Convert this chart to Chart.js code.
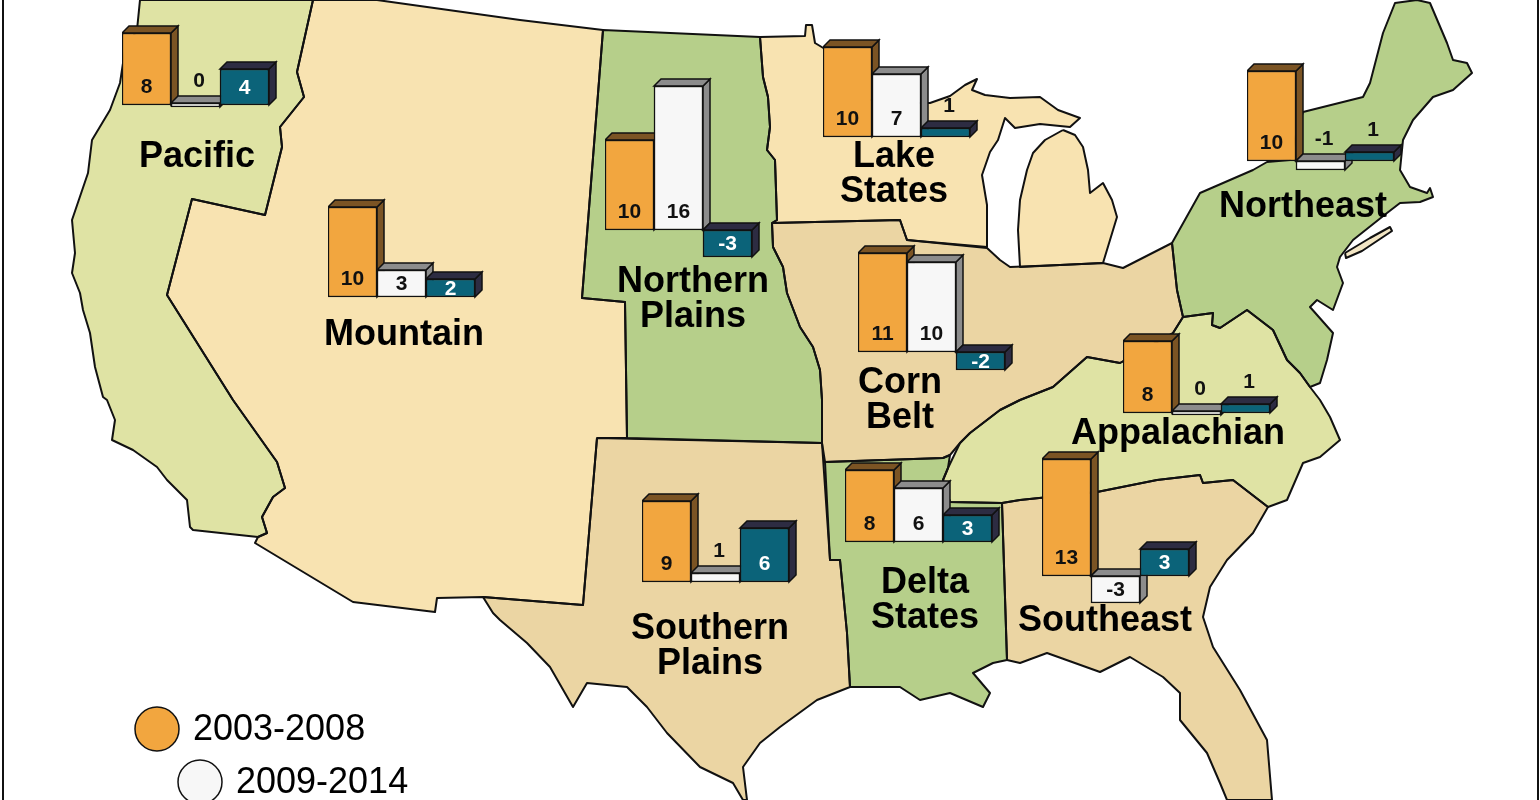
<!DOCTYPE html>
<html><head><meta charset="utf-8">
<script src="https://cdn.jsdelivr.net/npm/chart.js@4/dist/chart.umd.min.js"></script>
<style>
html,body{margin:0;padding:0;background:#fff;}
#wrap{position:relative;width:1540px;height:800px;overflow:hidden;background:#fff;}
#map{position:absolute;left:0;top:0;}
.mini{position:absolute;}
</style></head><body><div id="wrap"><canvas id="map" width="1540" height="800"></canvas></div>
<script>
// ---------- DATA ----------
const regions = ['Pacific','Mountain','Northern Plains','Lake States','Corn Belt','Northeast','Appalachian','Southern Plains','Delta States','Southeast'];
const periods = ['2003-2008','2009-2014','2015-2019'];
const values2003_2008 = [8,10,10,10,11,10,8,9,8,13];
const values2009_2014 = [0,3,16,7,10,-1,0,1,6,-3];
const values2015_2019 = [4,2,-3,1,-2,1,1,6,3,3];

// ---------- STYLE ----------
const frontColors = ['#f2a63f','#f7f7f7','#0b6379'];
const depthColors = ['#7b5424','#8c8c8c','#2d2c42'];
const labelColors = ['#111111','#111111','#ffffff'];
const regionFill = {green:'#b6cf8a', pale:'#dfe3a4', wheat:'#f8e3b1', tan:'#ebd5a3'};
const FONT = "'Liberation Sans', Arial, Helvetica, sans-serif";

// ---------- LAYOUT (pixel anchors) ----------
const barAnchors = [[122,105],[328,297],[605,230],[823,137],[858,352],[1247,161],[1123,413],[642,582],[845,542],[1042,576]];
const labelAnchors = [[197,157],[404,335],[693,282],[894,157],[900,383],[1303,207],[1178,434],[710,629],[925,583],[1105,621]];
const PPU = 9, Y_MIN = -5, Y_MAX = 18, BAR_W = 49, DEPTH = 7;

// ---------- MAP OUTLINES (pixel space) ----------
const shapePacific = [[140,0],[313,0],[297,72],[304,97],[280,127],[282,147],[265,215],[192,199],[167,295],[233,400],[277,462],[285,488],[273,497],[262,517],[267,533],[258,537],[193,530],[190,527],[187,500],[167,480],[157,467],[133,450],[112,440],[115,420],[107,400],[103,397],[95,367],[90,333],[83,310],[80,293],[72,273],[75,253],[72,220],[88,173],[92,140],[110,110],[120,83],[125,50],[137,30]];
const shapeMountain = [[313,0],[377,0],[520,20],[603,30],[582,298],[625,302],[627,438],[597,438],[583,605],[483,597],[437,598],[435,612],[353,602],[255,543],[258,537],[267,533],[262,517],[273,497],[285,488],[277,462],[233,400],[167,295],[192,199],[265,215],[282,147],[280,127],[304,97],[297,72]];
const shapeNorthernPlains = [[603,30],[760,37],[763,77],[768,97],[770,127],[767,150],[775,160],[777,220],[772,223],[773,247],[783,267],[787,293],[800,327],[813,347],[820,370],[822,400],[822,443],[627,438],[625,302],[582,298]];
const shapeLakeStates = [[760,37],[805,36],[806,25],[812,25],[815,43],[835,55],[850,90],[870,100],[900,103],[930,103],[950,96],[965,85],[977,79],[972,90],[985,95],[1010,98],[1040,97],[1058,110],[1080,118],[1070,127],[1040,124],[1015,128],[1005,118],[998,140],[990,152],[982,175],[987,205],[987,247],[907,240],[900,220],[772,223],[777,220],[775,160],[767,150],[770,127],[768,97],[763,77]];
const shapeMichigan = [[1063,130],[1075,135],[1083,147],[1088,170],[1090,193],[1103,183],[1112,200],[1117,217],[1110,240],[1103,263],[1060,265],[1020,267],[1018,230],[1020,200],[1027,170],[1033,153],[1045,140]];
const shapeCornBelt = [[772,223],[900,220],[907,240],[987,248],[1000,260],[1010,267],[1060,265],[1103,263],[1123,268],[1172,243],[1177,290],[1183,317],[1173,333],[1120,363],[1087,357],[1053,387],[1020,400],[1000,410],[970,433],[960,443],[950,455],[943,458],[825,462],[822,443],[822,400],[820,370],[813,347],[800,327],[787,293],[783,267],[773,247]];
const shapeNortheast = [[1172,243],[1200,193],[1253,170],[1267,162],[1290,160],[1297,130],[1303,112],[1363,97],[1370,83],[1383,33],[1395,3],[1417,0],[1430,3],[1447,43],[1453,60],[1467,63],[1472,73],[1453,90],[1433,97],[1413,120],[1403,140],[1400,170],[1410,187],[1427,193],[1430,188],[1433,197],[1420,202],[1400,203],[1387,213],[1353,240],[1340,257],[1337,267],[1343,283],[1333,310],[1317,300],[1310,307],[1333,333],[1327,360],[1320,383],[1310,387],[1300,373],[1287,360],[1273,330],[1247,310],[1220,328],[1212,325],[1213,313],[1183,317],[1177,290]];
const shapeLongIsland = [[1345,253],[1370,238],[1390,227],[1392,231],[1362,251],[1346,258]];
const shapeAppalachian = [[1183,317],[1213,313],[1212,325],[1220,328],[1247,310],[1273,330],[1287,360],[1300,373],[1310,387],[1320,400],[1330,417],[1340,440],[1320,457],[1303,463],[1287,500],[1268,507],[1233,480],[1203,483],[1200,475],[1157,480],[1097,492],[1020,500],[1002,503],[950,502],[943,480],[948,468],[960,443],[970,433],[1000,410],[1020,400],[1053,387],[1087,357],[1120,363],[1173,333]];
const shapeSouthernPlains = [[597,438],[822,443],[830,560],[840,560],[847,633],[850,687],[817,700],[780,727],[760,743],[743,767],[747,800],[743,800],[733,783],[700,767],[667,733],[647,707],[627,687],[587,683],[573,707],[550,667],[527,643],[500,620],[493,613],[483,597],[583,605]];
const shapeDelta = [[825,462],[943,458],[950,455],[948,468],[943,480],[950,502],[1002,503],[1007,660],[993,663],[973,673],[990,693],[983,707],[950,693],[920,700],[900,687],[850,687],[847,633],[840,560],[830,560]];
const shapeSoutheast = [[1002,503],[1020,500],[1097,492],[1157,480],[1200,475],[1203,483],[1233,480],[1268,507],[1253,533],[1227,560],[1210,587],[1203,617],[1213,647],[1240,690],[1267,740],[1272,800],[1227,800],[1220,783],[1207,753],[1180,720],[1180,693],[1163,677],[1130,657],[1100,672],[1047,653],[1020,663],[1007,660]];

const mapShapes = [
  [shapePacific, regionFill.pale], [shapeMountain, regionFill.wheat], [shapeNorthernPlains, regionFill.green],
  [shapeLakeStates, regionFill.wheat], [shapeMichigan, regionFill.wheat], [shapeCornBelt, regionFill.tan],
  [shapeNortheast, regionFill.green], [shapeLongIsland, '#f3e6c4'], [shapeAppalachian, regionFill.pale],
  [shapeSouthernPlains, regionFill.tan], [shapeDelta, regionFill.green], [shapeSoutheast, regionFill.tan]
];

// ---------- MAP CHART ----------
const mapDecor = {
  id:'mapDecor',
  afterDatasetsDraw(chart){
    const ctx = chart.ctx;
    ctx.save();
    // region names
    ctx.fillStyle = '#000';
    ctx.font = 'bold 36px ' + FONT;
    ctx.textAlign = 'center';
    ctx.textBaseline = 'middle';
    regions.forEach((name,i)=>{
      const lines = name.split(' ');
      const [cx,cy] = labelAnchors[i];
      lines.forEach((ln,k)=> ctx.fillText(ln, cx, cy + k*35));
    });
    // legend
    ctx.font = '36px ' + FONT;
    ctx.textAlign = 'left';
    periods.forEach((p,i)=>{
      const cx = 157 + i*43, cy = 729 + i*53;
      ctx.beginPath(); ctx.arc(cx, cy, 22, 0, Math.PI*2);
      ctx.fillStyle = frontColors[i]; ctx.fill();
      ctx.lineWidth = 1.5; ctx.strokeStyle = '#111'; ctx.stroke();
      ctx.fillStyle = '#000';
      ctx.fillText(p, cx + 36, cy + 1);
    });
    // frame lines
    ctx.fillStyle = '#111';
    ctx.fillRect(2,0,2,800);
    ctx.fillRect(1537,0,2,800);
    ctx.restore();
  }
};

new Chart(document.getElementById('map'), {
  type:'scatter',
  data:{datasets: mapShapes.map(([pts,color]) => ({
    data: pts.concat([pts[0]]).map(p=>({x:p[0], y:p[1]})),
    showLine:true, fill:'shape', backgroundColor:color, borderColor:'#111',
    borderWidth:2, pointRadius:0, tension:0, borderJoinStyle:'round'
  }))},
  options:{
    responsive:false, animation:false, events:[],
    layout:{padding:0},
    scales:{x:{type:'linear',display:false,min:0,max:1540}, y:{type:'linear',display:false,min:0,max:800,reverse:true}},
    plugins:{legend:{display:false}, tooltip:{enabled:false}, filler:{drawTime:'beforeDatasetsDraw'}}
  },
  plugins:[mapDecor]
});

// ---------- MINI 3D BAR CHARTS ----------
const bar3d = {
  id:'bar3d',
  beforeDatasetsDraw(chart){
    const ctx = chart.ctx, meta = chart.getDatasetMeta(0);
    ctx.save(); ctx.lineWidth = 1.5; ctx.strokeStyle = '#111'; ctx.lineJoin = 'miter';
    meta.data.forEach((el,i)=>{
      const {x,y,base,width} = el.getProps(['x','y','base','width'], true);
      const l = x - width/2, r = x + width/2, t = Math.min(y,base), b = Math.max(y,base);
      ctx.fillStyle = depthColors[i];
      ctx.beginPath();
      ctx.moveTo(r,t); ctx.lineTo(r+DEPTH,t-DEPTH); ctx.lineTo(r+DEPTH,b-DEPTH); ctx.lineTo(r,b); ctx.closePath();
      ctx.fill(); ctx.stroke();
      ctx.beginPath();
      ctx.moveTo(l,t); ctx.lineTo(l+DEPTH,t-DEPTH); ctx.lineTo(r+DEPTH,t-DEPTH); ctx.lineTo(r,t); ctx.closePath();
      ctx.fill(); ctx.stroke();
    });
    ctx.restore();
  },
  afterDatasetsDraw(chart){
    const ctx = chart.ctx, meta = chart.getDatasetMeta(0), vals = chart.data.datasets[0].data;
    ctx.save();
    ctx.font = 'bold 21px ' + FONT; ctx.textAlign = 'center'; ctx.textBaseline = 'middle';
    meta.data.forEach((el,i)=>{
      const v = vals[i];
      const {x,y,base} = el.getProps(['x','y','base'], true);
      const t = Math.min(y,base), b = Math.max(y,base), h = b - t;
      let lx = x, ly, col = labelColors[i];
      if (Math.abs(v) <= 1) { lx = x + DEPTH/2; ly = t - DEPTH - 15; col = '#111'; }
      else if (v < 0) ly = (t + b)/2 + 1;
      else ly = b - Math.min(19, h/2) + 1;
      ctx.fillStyle = col;
      ctx.fillText(String(v), lx, ly);
    });
    ctx.restore();
  }
};

const wrap = document.getElementById('wrap');
regions.forEach((name,i)=>{
  const cv = document.createElement('canvas');
  cv.className = 'mini';
  const W = BAR_W*3 + 12, H = (Y_MAX - Y_MIN)*PPU;
  cv.width = W; cv.height = H;
  cv.style.left = barAnchors[i][0] + 'px';
  cv.style.top = (barAnchors[i][1] - Y_MAX*PPU) + 'px';
  wrap.appendChild(cv);
  new Chart(cv, {
    type:'bar',
    data:{labels:periods, datasets:[{
      data:[values2003_2008[i], values2009_2014[i], values2015_2019[i]],
      backgroundColor:frontColors, borderColor:'#111', borderWidth:1.5, borderSkipped:false,
      barPercentage:1, categoryPercentage:1, minBarLength:4
    }]},
    options:{
      responsive:false, animation:false, events:[],
      layout:{padding:{left:0,right:12,top:0,bottom:0}},
      scales:{x:{display:false}, y:{display:false,min:Y_MIN,max:Y_MAX}},
      plugins:{legend:{display:false}, tooltip:{enabled:false}}
    },
    plugins:[bar3d]
  });
});
</script></body></html>
